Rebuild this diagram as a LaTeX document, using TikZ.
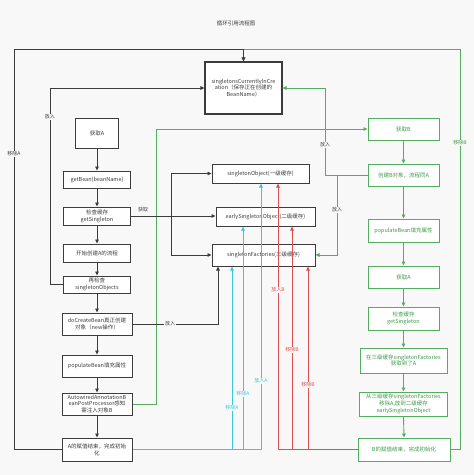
\documentclass[tikz,border=0pt]{standalone}
\usepackage{fontspec}
\setmainfont{Noto Sans CJK SC}
\usetikzlibrary{arrows.meta,calc}
\definecolor{bg}{HTML}{F8F8F8}
\definecolor{dk}{HTML}{3C3C3C}
\definecolor{gn}{HTML}{55AE5F}
\definecolor{gt}{HTML}{3E9A4A}
\definecolor{cy}{HTML}{3CC8DC}
\definecolor{rd}{HTML}{E04F4F}
\begin{document}
\begin{tikzpicture}[x=1pt,y=-1pt,
  font=\fontsize{5.5}{6.8}\selectfont,
  bbox/.style={draw=dk,line width=1pt,fill=white,text=dk,align=center,inner sep=0pt},
  gbox/.style={draw=gn,line width=1pt,fill=white,text=gt,align=center,inner sep=0pt},
  tip/.style={-{Triangle[length=4pt,width=3.6pt]}},
  bwire/.style={draw=dk,line width=0.9pt,tip},
  gwire/.style={draw=gn,line width=0.9pt,tip},
  cwire/.style={draw=cy,line width=0.9pt,tip},
  rwire/.style={draw=rd,line width=0.9pt,tip},
  lab/.style={fill=bg,inner sep=0.6pt,font=\fontsize{5}{6}\selectfont},
]
\fill[bg] (0,0) rectangle (474,475);
\useasboundingbox (0,0) rectangle (474,475);

\node[text=dk] (title) at (236,23) {循环引用流程图};

% top box
\node[bbox,line width=1.1pt,minimum width=77pt,minimum height=52pt] (cic) at (243.5,88)
  {singletonsCurrentlyInCre\\ation（保存正在创建的\\BeanName）};

% left column
\node[bbox,minimum width=43pt,minimum height=30pt] (a1) at (97,133) {获取A};
\node[bbox,minimum width=67pt,minimum height=17pt] (a2) at (97,179.5) {getBean(beanName)};
\node[bbox,minimum width=67pt,minimum height=18pt] (a3) at (97,216) {检查缓存\\getSingleton};
\node[bbox,minimum width=67pt,minimum height=18pt] (a4) at (97,253) {开始创建A的流程};
\node[bbox,minimum width=67pt,minimum height=17pt] (a5) at (97,284.5) {再检查\\singletonObjects};
\node[bbox,minimum width=70pt,minimum height=22pt] (a6) at (97,324) {doCreateBean真正创建\\对象（new操作）};
\node[bbox,minimum width=70pt,minimum height=22pt] (a7) at (97,366) {populateBean填充属性};
\node[bbox,minimum width=70pt,minimum height=22pt] (a8) at (97,404) {AutowiredAnnotationB\\eanPostProcessor感知\\需注入对象B};
\node[bbox,minimum width=70pt,minimum height=23pt] (a9) at (97,449.5) {A的赋值结束，完成初始\\化};

% caches
\node[bbox,minimum width=97pt,minimum height=19pt] (c1) at (260.5,173.5) {singletonObject(一级缓存)};
\node[bbox,minimum width=99pt,minimum height=19pt] (c2) at (265.5,216.5) {earlySingletonObject(二级缓存)};
\node[bbox,minimum width=103pt,minimum height=22pt] (c3) at (263.5,255) {singletonFactories(三级缓存)};

% right column
\node[gbox,minimum width=71pt,minimum height=22pt] (b1) at (403.5,129) {获取B};
\node[gbox,minimum width=71pt,minimum height=22pt] (b2) at (403.5,175) {创建B对象，流程同A};
\node[gbox,minimum width=71pt,minimum height=23pt] (b3) at (403.5,230.5) {populateBean填充属性};
\node[gbox,minimum width=71pt,minimum height=22pt] (b4) at (403.5,277) {获取A};
\node[gbox,minimum width=71pt,minimum height=23pt] (b5) at (403.5,318.5) {检查缓存\\getSingleton};
\node[gbox,minimum width=87pt,minimum height=25pt] (b6) at (403.5,360.5) {在三级缓存singletonFactories\\获取到了A};
\node[gbox,minimum width=88pt,minimum height=24pt] (b7) at (403.5,404) {从三级缓存singletonFactories\\移除A,放到二级缓存\\earlySingletonObject};
\node[gbox,minimum width=92pt,minimum height=23pt] (b8) at (404,449.5) {B的赋值结束，完成初始化};

% chains
\foreach \u/\v in {a1/a2,a2/a3,a3/a4,a4/a5,a5/a6,a6/a7,a7/a8,a8/a9}
  \draw[bwire] (\u.south) -- (\v.north);
\foreach \u/\v in {b1/b2,b2/b3,b3/b4,b4/b5,b5/b6,b6/b7,b7/b8}
  \draw[gwire] (\u.south) -- (\v.north);

% coordinates
\coordinate (top) at (243.5,49);
\coordinate (lo1) at (14,449.5);
\coordinate (lo2) at (14,49);
\coordinate (li1) at (50,284.5);
\coordinate (li2) at (50,88);
\coordinate (tr1) at (171,173.5);
\coordinate (tr2) at (171,255);
\coordinate (dc) at (218,324);
\coordinate (gl1) at (156,404);
\coordinate (gl2) at (156,129);
\coordinate (gp1) at (325,175);
\coordinate (gp2) at (325,88);
\coordinate (gq1) at (337,175);
\coordinate (gq2) at (337,255);
\coordinate (gr1) at (460,449.5);
\coordinate (gr2) at (460,49);
\coordinate (cyA) at (232,449.5);
\coordinate (cyB) at (243,449.5);
\coordinate (cyC) at (261,449.5);
\coordinate (rdA) at (278,449.5);
\coordinate (rdB) at (292,449.5);
\coordinate (rdC) at (308,449.5);

% green long wires
\draw[gwire] (b8.east) -- (gr1) -- (gr2) -- (top) -- (cic.north);
\draw[gwire] (a8.east) -- (gl1) -- (gl2) -- (b1.west);
\draw[gwire] (b2.west) -- (gp1) -- (gp2) -- (cic.east);
\draw[gwire] (gq1) -- (gq2) -- (c3.east);

% black long wires
\draw[bwire] (a9.west) -- (lo1) -- (lo2) -- (top) -- (cic.north);
\draw[bwire] (a5.west) -- (li1) -- (li2) -- (cic.west);
\draw[bwire] (a3.east) -- (a3.east -| c2.west);
\draw[bwire] (tr2 |- c1.west) -- (c1.west);
\draw[bwire] (tr2 |- c3.west) -- (c3.west);
\draw[draw=dk,line width=0.9pt] (tr1 |- c1.west) -- (tr2 |- c3.west);
\draw[bwire] (a6.east) -- (dc) -- (dc |- c3.south);

% cyan
\draw[draw=cy,line width=0.9pt] (a9.east) -- (cyC);
\draw[cwire] (cyA) -- (cyA |- c3.south);
\draw[cwire] (cyB) -- (cyB |- c2.south);
\draw[cwire] (cyC) -- (cyC |- c1.south);

% red
\draw[draw=rd,line width=0.9pt] (b8.west) -- (rdA);
\draw[rwire] (rdA) -- (rdA |- c1.south);
\draw[rwire] (rdB) -- (rdB |- c2.south);
\draw[rwire] (rdC) -- (rdC |- c3.south);

% labels
\node[lab,text=dk] (l1) at (14,154) {移除A};
\node[lab,text=dk] (l2) at (50,117) {放入};
\node[lab,text=dk,fill=none] (l3) at (143,210) {获取};
\node[lab,text=dk] (l4) at (170,324) {放入};
\node[lab,text=dk] (l5) at (325,145) {放入};
\node[lab,text=dk] (l6) at (337,210) {放入};
\node[lab,text=gt] (l7) at (460,143) {移除B};
\node[lab,text=cy] (l8) at (232,408) {移除A};
\node[lab,text=cy] (l9) at (243,394) {移除A};
\node[lab,text=cy] (l10) at (261,381) {放入A};
\node[lab,text=rd] (l11) at (278,290) {放入B};
\node[lab,text=rd] (l12) at (292,350) {移除B};
\node[lab,text=rd] (l13) at (308,385) {移除B};
\end{tikzpicture}
\end{document}
